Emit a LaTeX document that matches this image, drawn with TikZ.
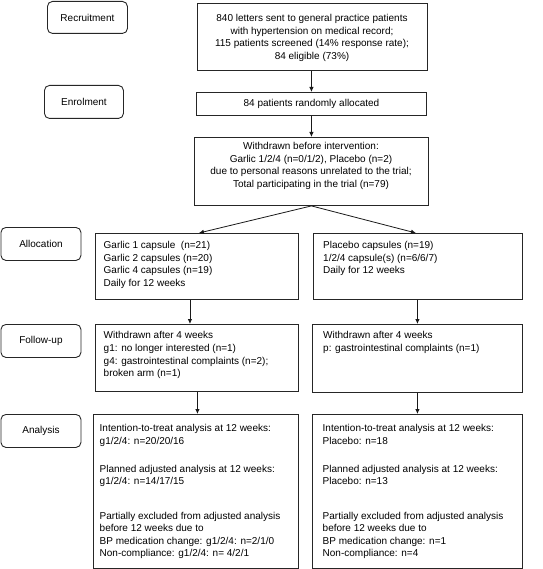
\documentclass[tikz,border=0pt]{standalone}
\usepackage{fontspec}
\setmainfont{Liberation Sans}
\usetikzlibrary{arrows.meta}
\begin{document}
\begin{tikzpicture}[x=1pt,y=-1pt,
  every node/.style={font=\fontsize{10}{12.6}\selectfont, text=black},
  box/.style={draw=black!85, line width=0.9pt, inner sep=0pt, anchor=north west},
  stage/.style={box, rounded corners=5pt, minimum width=80pt, minimum height=33pt},
  txt/.style={inner sep=0pt, align=left, anchor=north west},
  ctxt/.style={inner sep=0pt, align=center},
  arr/.style={draw=black!90, line width=0.8pt, -{Latex[length=5pt,width=4.5pt]}}]
\useasboundingbox (0,0) rectangle (542,569);
% stage labels
\node[stage, minimum width=80pt, minimum height=32pt] (srec) at (47,1) {};
\node[ctxt] at (srec.center) {Recruitment};
\node[stage, minimum width=79pt] (senr) at (44,85) {};
\node[ctxt] at (senr.center) {Enrolment};
\node[stage] (sall) at (0.5,227) {};
\node[ctxt] at (sall.center) {Allocation};
\node[stage] (sfol) at (0.5,324) {};
\node[ctxt] at (sfol.center) {Follow-up};
\node[stage] (sana) at (0.5,414) {};
\node[ctxt] at (sana.center) {Analysis};
% main boxes
\node[box, minimum width=230pt, minimum height=67pt] (rec) at (197,3) {};
\node[ctxt] at (312,38) {840 letters sent to general practice patients\\with hypertension on medical record;\\115 patients screened (14\% response rate);\\84 eligible (73\%)};
\node[box, minimum width=230pt, minimum height=23pt] (enr) at (196,92) {};
\node[ctxt] at (enr.center) {84 patients randomly allocated};
\node[box, minimum width=234pt, minimum height=68pt] (wd) at (194,137) {};
\node[ctxt] at (311,166) {Withdrawn before intervention:\\Garlic 1/2/4 (n=0/1/2), Placebo (n=2)\\due to personal reasons unrelated to the trial;\\Total participating in the trial (n=79)};
\node[box, minimum width=203pt, minimum height=66pt] (gar) at (95,233) {};
\node[txt] at (103.5,241) {Garlic 1 capsule~ (n=21)\\Garlic 2 capsules (n=20)\\Garlic 4 capsules (n=19)\\Daily for 12 weeks};
\node[box, minimum width=209pt, minimum height=66pt] (pla) at (313,233) {};
\node[txt] at (323,241) {Placebo capsules (n=19)\\1/2/4 capsule(s) (n=6/6/7)\\Daily for 12 weeks};
\node[box, minimum width=203pt, minimum height=67pt] (ful) at (95,324) {};
\node[txt] at (103.5,331.5) {Withdrawn after 4 weeks\\g1: no longer interested (n=1)\\g4: gastrointestinal complaints (n=2);\\broken arm (n=1)};
\node[box, minimum width=210pt, minimum height=68pt] (fur) at (312,324) {};
\node[txt] at (323,331.5) {Withdrawn after 4 weeks\\p: gastrointestinal complaints (n=1)};
\node[box, minimum width=205pt, minimum height=154pt] (anl) at (93,414) {};
\node[txt] at (99.5,424.2) {Intention-to-treat analysis at 12 weeks:\\g1/2/4: n=20/20/16\\[15.4pt]Planned adjusted analysis at 12 weeks:\\g1/2/4: n=14/17/15\\[21.7pt]Partially excluded from adjusted analysis\\before 12 weeks due to\\BP medication change: g1/2/4: n=2/1/0\\Non-compliance: g1/2/4: n= 4/2/1};
\node[box, minimum width=210pt, minimum height=154pt] (anr) at (312,414) {};
\node[txt] at (322.5,424.2) {Intention-to-treat analysis at 12 weeks:\\Placebo: n=18\\[15.4pt]Planned adjusted analysis at 12 weeks:\\Placebo: n=13\\[21.7pt]Partially excluded from adjusted analysis\\before 12 weeks due to\\BP medication change: n=1\\Non-compliance: n=4};
% connectors
\draw[arr] (rec.south -| enr.north) -- (enr.north);
\draw[arr] (enr.south) -- (wd.north -| enr.south);
\draw[arr] (wd.south) -- ([xshift=2pt]gar.north);
\draw[arr] (wd.south) -- ([xshift=-2pt]pla.north);
\draw[arr] ([xshift=-7pt]gar.south) -- ([xshift=-7pt]gar.south |- ful.north);
\draw[arr] (pla.south -| fur.north) -- (fur.north);
\draw[arr] ([xshift=0.5pt]ful.south) -- ([xshift=0.5pt]ful.south |- anl.north);
\draw[arr] (fur.south) -- (anr.north);
\end{tikzpicture}
\end{document}
